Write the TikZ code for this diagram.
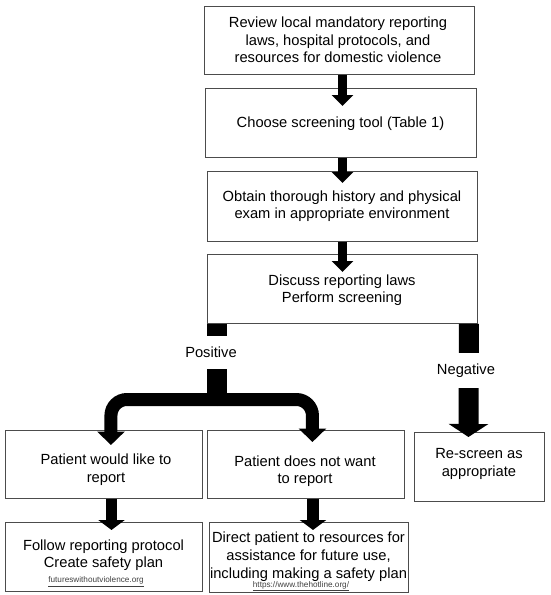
\documentclass[tikz,border=0pt]{standalone}
\usepackage{fontspec}
\setmainfont{Liberation Sans}
\usetikzlibrary{arrows.meta,calc}
\begin{document}
\begin{tikzpicture}[x=1pt,y=-1pt,
  box/.style={draw=black!70, line width=0.9pt, inner sep=0pt, anchor=north west},
  txt/.style={font=\fontsize{14.7}{17.3}\selectfont, align=center, inner sep=0pt},
  linktxt/.style={font=\fontsize{8.2}{9}\selectfont, text=black!75, inner sep=0pt},
  lbl/.style={font=\fontsize{14.7}{17.3}\selectfont, fill=white, inner xsep=2pt, inner ysep=0pt},
  arrowA/.style={draw=black, line width=9.5pt, -{Triangle[width=21pt,length=11pt]}},
  arrowB/.style={draw=black, line width=13pt, rounded corners=16pt, -{Triangle[width=27pt,length=13.5pt]}},
  arrowC/.style={draw=black, line width=11.5pt, -{Triangle[width=26pt,length=10pt]}},
  arrowD/.style={draw=black, line width=20pt, -{Triangle[width=39pt,length=13pt]}},
  stemline/.style={draw=black, line width=20pt}
]
\useasboundingbox (0,0) rectangle (550,595);

% boxes
\node[box, minimum width=270pt, minimum height=68pt] (b1) at (204,6) {};
\node[box, minimum width=271pt, minimum height=69pt] (b2) at (205,88) {};
\node[box, minimum width=270pt, minimum height=70pt] (b3) at (207,171) {};
\node[box, minimum width=270pt, minimum height=69pt] (b4) at (207,254) {};
\node[box, minimum width=197pt, minimum height=68pt] (pr) at (5,430) {};
\node[box, minimum width=197pt, minimum height=68pt] (nr) at (207,430) {};
\node[box, minimum width=130pt, minimum height=69pt] (rs) at (414,432) {};
\node[box, minimum width=197pt, minimum height=69pt] (fr) at (5,522) {};
\node[box, minimum width=199pt, minimum height=70pt] (dr) at (209,522) {};

% texts
\node[txt] (t1) at (338,40) {Review local mandatory reporting\\laws, hospital protocols, and\\resources for domestic violence};
\node[txt] (t2) at (340.5,124) {Choose screening tool (Table 1)};
\node[txt] (t3) at (342,206.5) {Obtain thorough history and physical\\exam in appropriate environment};
\node[txt] (t4) at (342,290.5) {Discuss reporting laws\\Perform screening};
\node[txt] (t5) at (106,469.7) {Patient would like to\\report};
\node[txt] (t6) at (305,471) {Patient does not want\\to report};
\node[txt] (t7) at (479,464) {Re-screen as\\appropriate};
\node[txt] (t8) at (103.5,555) {Follow reporting protocol\\Create safety plan};
\node[linktxt] (l1) at (96,581.5) {\underline{futureswithoutviolence.org}};
\node[txt, font=\fontsize{14.7}{18.1}\selectfont] (t9) at (308.5,557) {Direct patient to resources for\\assistance for future use,\\including making a safety plan};
\node[linktxt] (l2) at (301,586) {\underline{https://www.thehotline.org/}};

% column arrows
\coordinate (ax) at (342.5,0);
\draw[arrowA] (b1.south -| ax) -- ($(b2.north -| ax)+(0,18)$);
\draw[arrowA] (b2.south -| ax) -- ($(b3.north -| ax)+(0,12)$);
\draw[arrowA] (b3.south -| ax) -- ($(b4.north -| ax)+(0,18)$);

% positive branch
\coordinate (split) at (217,399.5);
\draw[stemline] ($(b4.south west)+(10,0)$) -- ($(split)+(0,6.5)$);
\draw[arrowB] (split) -| ($(pr.north)+(7,15)$);
\draw[arrowB] (split) -| ($(nr.north)+(6.5,12)$);
\node[lbl, minimum height=33pt] (pos) at (211,352.5) {Positive};

% negative branch
\draw[arrowD] ($(b4.south east)+(-9,0)$) -- ($(rs.north)+(-11,5)$);
\node[lbl, minimum height=35pt] (neg) at (466,370.5) {Negative};

% lower arrows
\coordinate (lx) at (111.5,0);
\coordinate (mx) at (313,0);
\draw[arrowC] (pr.south -| lx) -- ($(fr.north -| lx)+(0,8)$);
\draw[arrowC] (nr.south -| mx) -- ($(dr.north -| mx)+(0,8)$);
\end{tikzpicture}
\end{document}
